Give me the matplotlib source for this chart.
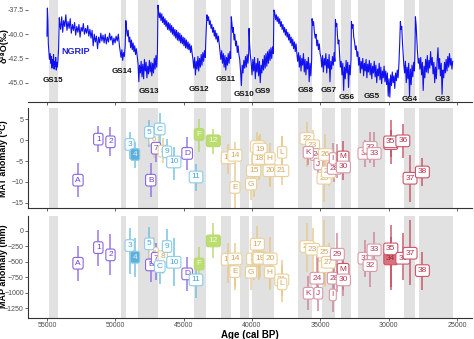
import matplotlib
matplotlib.use('Agg')
import matplotlib.pyplot as plt

plt.rcParams['font.family'] = ['Liberation Sans', 'DejaVu Sans']

# ---------------- NGRIP d18O record ----------------
ngrip_age = [55000, 54970, 54930, 54900, 54860, 54820, 54760, 54720, 54680, 54640, 54600, 54560, 54520, 54480,
             54440, 54400, 54360, 54320, 54280, 54240, 54200, 54150, 54100, 54060,
             54000, 53920, 53850, 53780, 53700, 53620, 53540, 53460, 53380, 53300, 53220, 53140, 53060, 52980,
             52900, 52820, 52740, 52660, 52580, 52500, 52420, 52340, 52260, 52180, 52100, 52020, 51940, 51860,
             51780, 51700, 51620, 51540, 51460, 51380, 51300, 51220, 51140, 51060, 50980, 50900, 50820, 50740,
             50660, 50580, 50500, 50420, 50340, 50260, 50180, 50100, 50020, 49940, 49860, 49780, 49700,
             49640, 49580, 49520, 49460, 49400, 49340, 49280, 49230, 49180, 49120, 49060, 49000, 48940, 48880,
             48820, 48760, 48700, 48640, 48580, 48520, 48460, 48400,
             48340, 48280, 48230, 48170, 48110, 48050, 47990, 47930, 47870, 47810, 47750, 47690, 47630, 47570,
             47510, 47450, 47390, 47330, 47270, 47210, 47150, 47090, 47030, 46970, 46920, 46880, 46840, 46780,
             46720, 46660, 46600, 46540, 46480, 46420, 46360, 46300, 46240, 46180, 46120, 46060, 46000, 45940,
             45880, 45820, 45760, 45700, 45640, 45580, 45520, 45460, 45400, 45340, 45280, 45220, 45160, 45100,
             45040, 44980, 44920, 44860, 44800, 44740, 44680, 44620, 44560, 44500, 44440, 44380,
             44320, 44260, 44200, 44140, 44080, 44020, 43960, 43900, 43840, 43780, 43720, 43660, 43600, 43540,
             43480, 43420, 43380, 43300, 43240, 43180, 43120, 43060, 43000, 42940, 42880, 42820, 42760, 42700,
             42640, 42580, 42520, 42460, 42400,
             42340, 42280, 42220, 42160, 42100, 42040, 41980, 41920, 41860, 41800, 41740, 41680, 41620, 41560,
             41520, 41470, 41420, 41370, 41320, 41260, 41200, 41140, 41080, 41020, 40960,
             40900, 40840, 40780, 40720, 40660, 40600, 40540, 40480, 40420, 40360, 40300, 40240, 40220, 40180,
             40120, 40060, 40000, 39940, 39880, 39820, 39760, 39700, 39640, 39580, 39520, 39460, 39400, 39340,
             39280, 39220, 39160, 39100, 39040, 38980, 38920, 38860, 38800, 38740, 38680, 38620, 38560, 38500,
             38440, 38400, 38340, 38280, 38220, 38160, 38100, 38040, 37980, 37920, 37860, 37800, 37740, 37680,
             37620, 37560, 37500, 37440, 37380, 37320, 37260, 37200, 37140, 37080, 37020, 36960, 36900, 36840,
             36780, 36720,
             36660, 36600, 36540, 36480, 36420, 36360, 36300, 36240, 36180, 36120, 36060, 36000, 35940, 35880,
             35820, 35760, 35700, 35640, 35610, 35560, 35500, 35440, 35380, 35320, 35260, 35200, 35140, 35080,
             35020,
             34960, 34900, 34840, 34780, 34720, 34660, 34600, 34540, 34480, 34420, 34360, 34300, 34240, 34180,
             34120, 34060, 34000, 33940, 33900, 33850, 33800, 33750, 33700, 33650, 33600, 33540,
             33480, 33420, 33360, 33300, 33240, 33180, 33120, 33060, 33000, 32940, 32880, 32820, 32760, 32730,
             32680, 32620, 32560, 32500, 32440, 32380, 32320, 32260,
             32200, 32140, 32080, 32020, 31960, 31900, 31840, 31780, 31720, 31660, 31600, 31540, 31480, 31420,
             31360, 31300, 31240, 31180, 31120, 31060, 31000, 30940, 30880, 30820, 30760, 30700, 30640, 30580,
             30520, 30460, 30400, 30340, 30280,
             30220, 30160, 30100, 30040, 29980, 29920, 29860, 29800, 29740, 29680, 29620, 29560, 29500, 29440,
             29380, 29320, 29260, 29200, 29150, 29100, 29050, 29000, 28950, 28900,
             28840, 28780, 28720, 28660, 28600, 28540, 28480, 28420, 28360, 28300, 28240, 28180, 28120, 28080,
             28050, 28000, 27950, 27900, 27840, 27780,
             27720, 27660, 27600, 27540, 27480, 27420, 27360, 27300, 27240, 27180, 27120, 27060, 27000, 26940,
             26880, 26820, 26760, 26700, 26640, 26580, 26520, 26460, 26400, 26340, 26280, 26220, 26160, 26100,
             26040, 25980, 25920, 25860, 25800, 25740, 25680, 25620, 25560, 25500, 25440, 25380, 25320]
ngrip_d18o = [-40.2, -37.3, -38.6, -41.0, -41.8, -42.6, -42.0, -43.0, -42.3, -43.5, -42.6, -43.2, -42.1, -43.6,
              -42.8, -43.3, -42.4, -43.7, -42.9, -43.4, -42.7, -41.5, -38.3, -38.9,
              -39.5, -38.2, -39.8, -38.6, -39.2, -38.0, -39.6, -38.7, -39.4, -38.4, -39.9, -39.0, -39.6, -38.8,
              -40.1, -39.2, -39.8, -39.0, -40.3, -39.3, -39.7, -38.9, -40.0, -39.4, -39.9, -39.1, -40.2, -39.5,
              -40.4, -39.6, -41.2, -40.0, -40.8, -40.2, -41.5, -40.3, -40.9, -39.9, -40.7, -40.1, -40.9, -40.0,
              -41.0, -40.3, -40.8, -39.9, -40.6, -40.2, -41.1, -40.4, -40.9, -40.2, -40.7, -40.0, -41.2,
              -41.8, -42.4, -41.6, -42.7, -41.9, -42.3, -41.2, -38.6, -39.4, -40.2, -39.6, -40.8, -40.3, -41.4,
              -40.6, -41.6, -40.9, -41.8, -41.2, -42.1, -41.5, -42.3,
              -43.0, -44.9, -43.2, -44.0, -42.8, -44.4, -43.1, -44.6, -42.6, -43.8, -42.9, -44.5, -43.3, -44.1,
              -42.7, -43.9, -42.9, -44.3, -43.0, -44.0, -42.5, -43.6, -42.2, -43.4, -41.8, -37.0, -37.6, -38.3,
              -37.8, -38.6, -37.9, -38.8, -38.2, -39.0, -38.4, -39.2, -38.6, -39.5, -38.8, -39.6, -38.9, -39.8,
              -39.1, -40.0, -39.3, -40.2, -39.5, -40.4, -39.6, -40.6, -39.8, -40.7, -39.9, -40.9, -40.1, -41.0,
              -40.3, -41.2, -40.4, -41.4, -40.6, -41.5, -40.8, -41.6, -41.0, -41.9, -41.2, -42.0,
              -42.6, -43.5, -42.4, -44.2, -42.8, -43.6, -42.3, -43.8, -42.5, -43.4, -42.1, -43.2, -41.9, -42.8,
              -41.7, -42.4, -40.5, -38.0, -38.6, -38.2, -39.0, -38.6, -39.4, -39.0, -39.8, -39.3, -40.2, -39.6,
              -40.5, -39.9, -40.8, -40.2, -41.0,
              -41.8, -42.6, -41.7, -43.0, -42.0, -43.4, -42.2, -43.7, -42.4, -43.2, -42.0, -43.0, -41.8, -42.5,
              -38.2, -38.9, -39.8, -39.3, -40.6, -40.0, -41.2, -40.7, -41.9, -41.2, -42.1,
              -42.6, -43.8, -45.3, -43.2, -44.0, -42.7, -43.5, -42.3, -43.4, -42.1, -43.0, -41.8, -39.4, -41.0,
              -42.2, -43.0, -44.2, -42.6, -43.8, -42.4, -44.6, -43.0, -43.9, -42.5, -44.3, -42.8, -45.0, -43.2,
              -44.0, -42.6, -43.7, -42.2, -43.5, -42.0, -43.3, -41.8, -43.0, -41.6, -42.7, -41.4, -42.5, -41.3,
              -42.0, -37.5, -37.8, -38.5, -38.0, -38.7, -38.2, -38.9, -38.4, -39.2, -38.7, -39.5, -39.0, -39.8,
              -39.3, -40.1, -39.5, -40.3, -39.8, -40.6, -40.0, -40.9, -40.3, -41.2, -40.5, -41.5, -40.8, -41.8,
              -41.0, -42.0,
              -42.8, -41.9, -43.4, -42.2, -43.8, -42.5, -43.2, -42.0, -43.9, -42.6, -44.2, -42.8, -43.6, -42.4,
              -44.9, -43.0, -44.3, -42.7, -38.4, -39.1, -38.7, -39.8, -40.4, -40.0, -41.2, -40.6, -41.6, -41.0,
              -42.0,
              -42.4, -43.4, -42.2, -43.9, -42.5, -43.2, -42.0, -44.0, -42.6, -43.5, -42.1, -44.9, -42.8, -43.6,
              -42.3, -43.2, -41.9, -42.8, -38.5, -39.2, -38.9, -40.2, -41.0, -40.6, -42.0, -43.4,
              -42.8, -44.2, -43.0, -45.8, -43.4, -44.6, -42.7, -44.0, -42.9, -45.5, -43.2, -44.2, -42.6, -38.7,
              -39.4, -39.0, -40.3, -40.8, -41.6, -41.2, -42.3, -41.8,
              -43.2, -42.4, -44.0, -42.8, -43.6, -42.5, -44.3, -43.0, -43.8, -42.6, -44.5, -43.1, -43.9, -42.7,
              -44.2, -43.0, -44.6, -43.3, -44.0, -42.8, -44.4, -43.2, -45.0, -43.6, -44.3, -43.0, -44.7, -43.4,
              -45.1, -43.8, -44.5, -43.3, -44.9,
              -43.8, -45.2, -44.0, -46.4, -44.6, -46.5, -44.2, -45.3, -43.9, -45.0, -44.3, -45.6, -44.0, -44.8,
              -43.7, -44.5, -43.2, -41.0, -38.7, -39.5, -39.2, -40.8, -41.9, -43.1,
              -44.0, -42.8, -45.0, -43.4, -44.6, -43.0, -46.4, -43.6, -45.2, -43.2, -44.4, -42.9, -43.8, -41.5,
              -38.2, -39.0, -40.5, -41.8, -43.0, -42.5,
              -43.6, -42.4, -44.2, -42.9, -45.8, -43.3, -44.5, -42.6, -43.9, -42.2, -44.0, -42.7, -43.5, -41.8,
              -43.2, -42.4, -44.1, -42.9, -45.0, -43.4, -44.6, -42.8, -41.4, -43.6, -42.5, -44.3, -43.0, -46.2,
              -43.7, -44.5, -42.9, -44.0, -42.6, -43.8, -42.3, -43.4, -42.0, -43.2, -42.5, -43.6, -42.8]

# ---------------- Greenland stadials ----------------
gs_names = ['GS15', 'GS14', 'GS13', 'GS12', 'GS11', 'GS10', 'GS9', 'GS8', 'GS7', 'GS6', 'GS5', 'GS4', 'GS3']
gs_start = [54854, 49607, 48320, 44266, 42290, 40878, 40022, 36656, 34878, 33488, 32222, 28856, 27780]
gs_end = [54173, 49220, 46878, 43388, 41537, 40220, 38390, 35610, 33905, 32734, 30268, 28073, 25315]
gs_label_age = [54583, 49512, 47558, 43856, 41925, 40585, 39195, 36070, 34390, 33100, 31240, 28440, 26030]
gs_label_val = [-44.8, -43.9, -45.9, -45.7, -44.7, -46.2, -45.95, -45.8, -45.85, -46.5, -46.4, -46.7, -46.7]

# ---------------- Reconstructions ----------------
site = ['A', '1', '2', '3', '4', '6', '5', 'B', '7', '8', 'C', '9', '10', 'D', '11', 'F', '12', '13', '14',
        'E', 'G', '15', '16', '17', '18', '19', 'H', '20', '21', 'L', '22', '23', '24', 'K', 'J', '26', '25',
        '27', '29', '28', 'I', 'M', '30', '31', '32', '33', '34', '35', '36', '37', '38']
age = [52730, 51246, 50354, 48949, 48561, 47193, 47515, 47412, 47025, 46535, 46754, 46220, 45720, 44745, 44098,
       43870, 42832, 41734, 41256, 41256, 40073, 39880, 39500, 39610, 39466, 39415, 38705, 38680, 37827, 37800,
       35980, 35570, 35250, 35880, 35150, 34630, 34730, 34400, 33760, 33980, 34090, 33340, 33320, 31733, 31366,
       31073, 29851, 29851, 28970, 28440, 27540]
group = ['purple', 'purple', 'purple', 'blue', 'blue', 'tan', 'blue', 'purple', 'purple', 'tan', 'blue', 'blue',
         'blue', 'purple', 'blue', 'green', 'green', 'tan', 'tan', 'tan', 'tan', 'tan', 'tan', 'tan', 'tan', 'tan',
         'tan', 'tan', 'tan', 'tan', 'tan', 'tan', 'pink', 'pink', 'pink', 'tan', 'tan', 'tan', 'pink', 'pink',
         'pink', 'red', 'pink', 'pink', 'pink', 'pink', 'red', 'red', 'red', 'red', 'red']
mat = [-9.56, 0.28, -0.37, -1.0, -3.4, 0.28, 1.9, -9.56, -1.9, -2.6, 2.7, -2.77, -5.2, -3.15, -8.8, 1.4, -0.13,
       -4.2, -3.6, -11.3, -10.5, -7.3, -4.6, -1.5, -4.35, -2.1, -4.35, -7.3, -7.3, -2.9, 0.44, -1.3, -3.4, -2.9,
       -5.7, -3.4, -9.1, -7.6, -5.0, -6.75, -4.35, -4.0, -6.4, -3.15, -1.7, -3.15, -0.8, -0.37, -0.13, -9.1, -7.6]
mat_lo = [-13.6, -2.8, -3.8, -4.5, -6.75, -4.35, -1.6, -13.6, -5.2, -5.5, -2.4, -6.4, -9.6, -7.2, -12.1, -2.8,
          -3.3, -8.0, -7.6, -16.3, -14.4, -13.6, -9.0, -5.0, -9.6, -6.4, -11.3, -11.0, -10.8, -7.0, -6.4, -5.0,
          -7.0, -6.0, -8.5, -7.0, -14.8, -11.0, -9.0, -10.0, -7.2, -9.6, -9.0, -6.5, -5.5, -6.4, -4.0, -5.6, -4.35,
          -14.8, -11.0]
mat_hi = [-5.5, 3.4, 3.2, 1.9, -0.4, 0.8, 4.8, -5.5, 1.1, 0.5, 6.6, 0.2, -1.6, 0.7, -5.7, 5.1, 2.8, -0.8, -0.4,
          -7.6, -7.6, -2.4, -0.5, 2.0, 1.0, 1.6, -0.6, -3.0, 1.0, 1.0, 4.4, 2.5, 0.0, 0.0, -3.0, 1.5, -3.0, -4.0,
          -1.0, -3.0, -0.6, -0.1, -3.5, 0.0, 2.0, 2.0, 2.5, 4.8, 4.0, -3.6, -4.35]
map_ = [-523, -270, -388, -237, -426, -361, -210, -550, -442, -415, -577, -253, -507, -695, -792, -534, -162,
        -460, -453, -658, -668, -453, -450, -215, -430, -442, -668, -453, -792, -857, -253, -296, -765, -1008,
        -1008, -577, -345, -507, -377, -765, -1035, -620, -792, -442, -561, -307, -453, -291, -442, -361, -642]
map_lo = [-808, -566, -711, -700, -738, -650, -600, -830, -800, -700, -852, -600, -889, -970, -1089, -873, -442,
          -850, -900, -955, -950, -800, -800, -600, -780, -750, -950, -927, -1050, -1143, -658, -750, -1100, -1277,
          -1294, -900, -873, -850, -981, -1100, -1305, -950, -1050, -750, -900, -650, -950, -900, -792, -873, -954]
map_hi = [-237, 16, -53, 43, -119, -100, 70, -334, -200, -150, -334, 32, -119, -415, -550, -253, 124, -200, -189,
          -500, -350, -150, -200, 80, -150, -150, -400, -92, -550, -469, 124, 50, -400, -728, -388, -250, 178, -200,
          -37, -450, -603, -300, -500, -150, -334, -21, -100, 97, -37, 178, -334]
mat_filled = ['4', 'F', '12']
map_filled = ['4', 'F', '12', '34']

# ---------------- style ----------------
pal = {
    'purple': dict(line='#8D6BE3', edge='#8A66E0', text='#6F45D2', fill='#7E5BDB', ftext='white'),
    'blue': dict(line='#6DBBE0', edge='#8ACDEA', text='#4BA7D2', fill='#5FAFDA', ftext='#E2F2FA'),
    'green': dict(line='#B2D865', edge='#B6DA6C', text='#98C443', fill='#BCDD70', ftext='#F3FAE4'),
    'tan': dict(line='#E6C888', edge='#E9D09A', text='#D6A65C', fill='#E6C888', ftext='white'),
    'pink': dict(line='#CC8093', edge='#D89AA9', text='#B3405E', fill='#D27C8C', ftext='#8E2037'),
    'red': dict(line='#C44D60', edge='#C9566A', text='#B52F46', fill='#D9727C', ftext='#A32439'),
}
band_color = '#E1E1E1'
axis_color = '#333333'
tick_color = '#4D4D4D'

xlim = (56390, 23903)
xticks = [55000, 50000, 45000, 40000, 35000, 30000, 25000]

fig = plt.figure(figsize=(4.74, 3.39), dpi=100)
ax1 = fig.add_axes([0.059, 0.699, 0.937, 0.301])
ax2 = fig.add_axes([0.059, 0.386, 0.937, 0.295])
ax3 = fig.add_axes([0.059, 0.063, 0.937, 0.301])

for ax in (ax1, ax2, ax3):
    for s, e in zip(gs_start, gs_end):
        ax.axvspan(s, e, color=band_color, lw=0, zorder=0)
    ax.set_xlim(*xlim)
    ax.set_xticks(xticks)
    for sp in ('top', 'right'):
        ax.spines[sp].set_visible(False)
    ax.spines['left'].set_color(axis_color)
    ax.spines['bottom'].set_color(axis_color)
    ax.spines['left'].set_linewidth(0.8)
    ax.spines['bottom'].set_linewidth(0.8)
    ax.tick_params(axis='both', labelsize=5, colors=tick_color, length=2, width=0.6, pad=1)
    ax.set_facecolor('none')

# top panel
ax1.spines['left'].set_visible(False)
ax1.plot(ngrip_age, ngrip_d18o, color='#1010F0', lw=0.8, zorder=2)
ax1.set_ylim(-47.0, -36.47)
ax1.set_yticks([-37.5, -40.0, -42.5, -45.0])
ax1.set_yticklabels(['-37.5', '-40.0', '-42.5', '-45.0'])
ax1.tick_params(axis='x', labelbottom=False)
ax1.text(52880, -41.8, 'NGRIP', color='#2020E0', fontsize=6.5, fontweight='bold', ha='center', va='center')
for n, a, v in zip(gs_names, gs_label_age, gs_label_val):
    ax1.text(a, v, n, fontsize=5.8, fontweight='bold', ha='center', va='center', color='#111111')
ax1.set_ylabel('δ¹⁸O(‰)', fontsize=6.5, fontweight='bold')
ax1.yaxis.set_label_coords(-0.044, 0.55)


def draw_panel(ax, vals, lo, hi, filled):
    for i, lab in enumerate(site):
        c = pal[group[i]]
        ax.plot([age[i], age[i]], [lo[i], hi[i]], color=c['line'], lw=1.1, alpha=0.9,
                solid_capstyle='butt', zorder=2 + i * 0.01)
    for i, lab in enumerate(site):
        c = pal[group[i]]
        if lab in filled:
            fc, tc = c['fill'], c['ftext']
        else:
            fc, tc = 'white', c['text']
        ax.text(age[i], vals[i], lab, fontsize=6, ha='center', va='center', color=tc, zorder=3 + i * 0.01,
                bbox=dict(boxstyle='round,pad=0.28,rounding_size=0.25', fc=fc, ec=c['edge'], lw=0.8))


draw_panel(ax2, mat, mat_lo, mat_hi, mat_filled)
ax2.set_ylim(-16.27, 7.71)
ax2.set_yticks([5, 0, -5, -10, -15])
ax2.tick_params(axis='x', labelbottom=False)
ax2.set_ylabel('MAT anomaly (°C)', fontsize=6.5, fontweight='bold')
ax2.yaxis.set_label_coords(-0.044, 0.5)

draw_panel(ax3, map_, map_lo, map_hi, map_filled)
ax3.set_ylim(-1402, 247)
ax3.set_yticks([0, -250, -500, -750, -1000, -1250])
ax3.set_xticklabels([str(t) for t in xticks], fontsize=5)
ax3.set_ylabel('MAP anomaly (mm)', fontsize=6.5, fontweight='bold')
ax3.yaxis.set_label_coords(-0.046, 0.5)
ax3.set_xlabel('Age (cal BP)', fontsize=7, fontweight='bold', labelpad=1)

fig.savefig('out.png', dpi=100)
